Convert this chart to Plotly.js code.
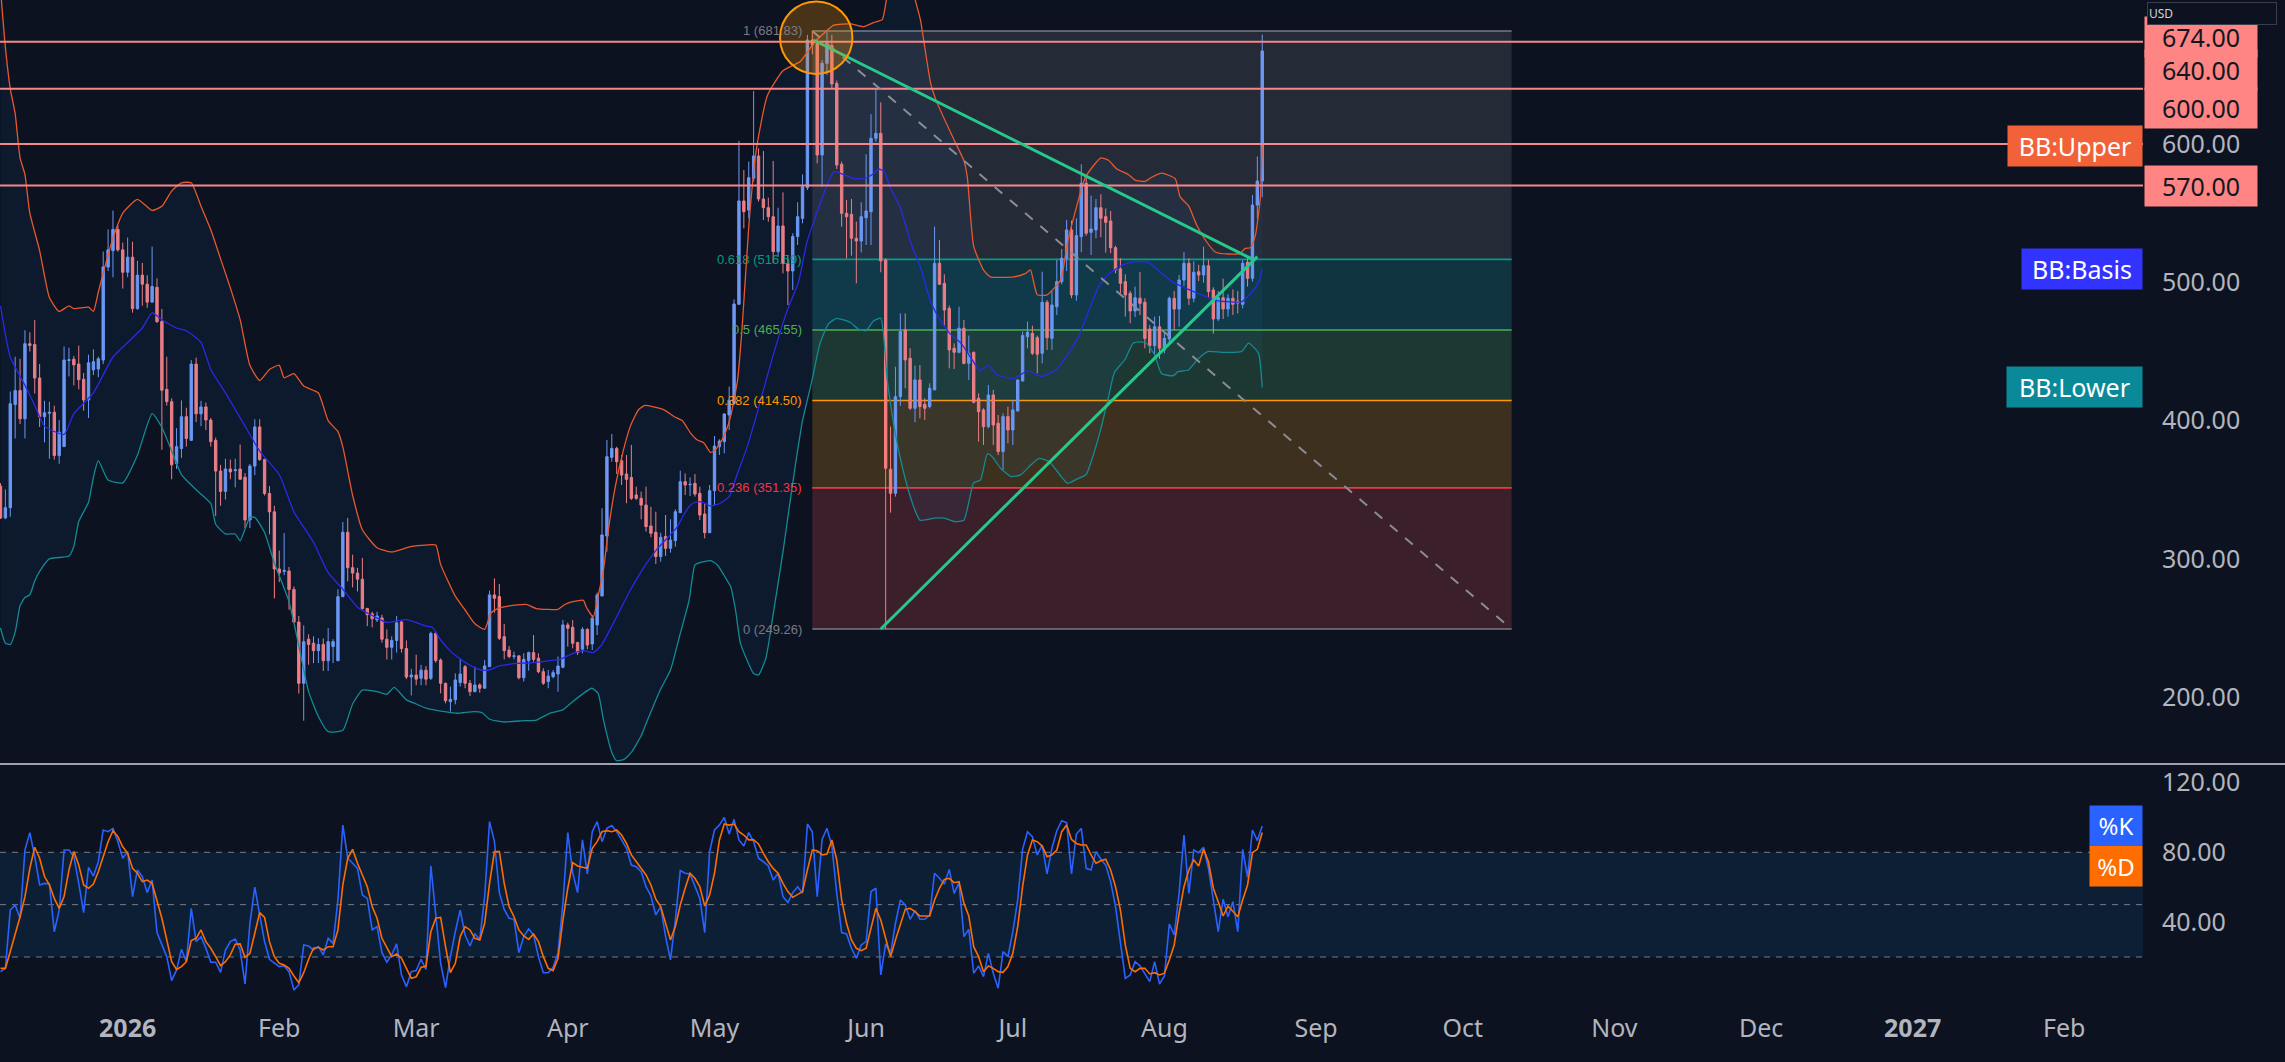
<!DOCTYPE html>
<html><head><meta charset="utf-8">
<script src="https://cdn.plot.ly/plotly-3.0.1.min.js"></script>
<style>html,body{margin:0;padding:0;background:#0c1220;}#chart{width:2285px;height:1062px;}</style>
</head><body><div id="chart"></div>
<script>
// ---------- DATA ----------
const startDate = [2025, 11, 6]; // first daily candle: 2025-12-06
const open = [352.6,329.6,337.0,411.6,421.7,401.3,455.6,455.0,430.8,402.8,
405.3,406.0,374.7,381.2,443.5,444.4,440.9,429.9,414.9,436.7,
437.3,443.8,511.1,522.9,538.3,523.5,507.3,518.2,481.0,505.2,
498.7,485.7,496.4,471.6,422.6,413.7,368.9,379.8,402.8,385.7,
440.9,404.9,409.9,400.4,385.7,363.5,348.8,365.0,363.8,365.0,
359.1,328.1,367.1,395.4,371.8,347.3,334.0,292.7,290.9,291.2,
277.9,254.3,210.0,241.9,239.0,233.6,238.1,226.3,236.6,226.3,
272.6,319.3,293.6,289.7,285.3,264.1,260.2,255.8,257.3,241.9,
236.0,241.0,254.3,235.1,214.5,216.0,213.6,219.5,213.6,246.1,
226.8,210.0,196.7,198.0,210.5,222.0,210.0,203.9,208.8,206.4,
222.0,273.9,272.7,243.7,234.0,229.5,229.8,214.0,226.4,232.2,
228.1,218.4,211.2,214.8,216.7,221.6,252.2,250.5,239.4,234.6,
249.0,238.4,252.2,273.1,316.5,373.4,379.9,371.0,361.4,358.9,
346.2,343.8,338.9,323.8,319.2,301.6,316.1,307.6,313.2,333.4,
355.8,353.6,354.6,347.4,332.4,318.9,349.3,381.1,384.8,404.1,
412.5,484.1,558.9,552.3,575.3,591.4,560.3,554.0,547.5,522.2,
540.8,513.8,508.2,533.1,546.3,568.5,675.3,672.9,592.1,658.4,
671.2,643.9,585.4,549.9,549.2,531.9,529.9,546.8,551.1,604.2,
607.8,516.2,364.8,347.4,417.3,465.6,445.1,408.9,429.4,411.8,
410.1,422.2,513.8,499.3,481.2,452.3,449.4,466.8,441.4,449.4,
416.1,407.7,395.6,418.5,398.1,377.6,402.9,393.2,407.0,428.7,
460.6,463.1,460.0,448.7,485.6,459.5,482.4,500.5,517.4,537.9,
490.9,533.1,571.6,536.2,537.9,554.0,547.5,544.4,525.1,509.7,
500.5,492.1,479.3,488.5,485.6,466.3,454.2,467.9,451.1,459.0,
488.5,480.7,501.7,513.8,488.5,507.7,505.3,512.0,494.5,473.5,
488.9,480.7,488.5,486.5,484.1,514.5,502.9,555.9,573.3];
const high = [354.7,350.2,421.0,446.2,444.7,465.4,463.9,472.7,440.9,414.3,
413.7,410.8,400.4,453.6,452.7,446.8,454.2,434.4,447.7,451.5,
446.2,522.3,538.3,551.9,541.2,528.8,532.4,529.4,515.6,514.1,
505.2,525.9,502.9,480.7,446.2,416.1,394.5,414.6,409.3,443.8,
445.6,414.3,413.1,401.9,387.7,368.0,372.4,371.8,372.4,382.7,
362.0,368.6,401.0,401.0,372.4,352.6,338.4,306.0,318.6,294.1,
280.0,258.7,251.9,245.4,243.9,242.5,242.5,249.9,241.9,278.0,
326.6,329.6,303.0,293.5,300.7,264.6,261.7,261.7,259.6,248.9,
244.0,258.7,255.2,241.0,220.4,230.7,223.3,222.5,247.3,247.3,
228.0,210.4,207.6,217.2,228.0,223.2,212.4,222.0,210.0,226.8,
277.0,285.9,281.8,252.9,236.9,232.9,230.5,231.7,232.9,244.9,
231.7,220.8,219.6,219.6,229.3,255.8,253.9,255.8,240.1,250.5,
249.8,259.4,275.6,336.6,386.0,390.3,381.1,375.1,375.1,382.4,
352.2,348.6,352.2,337.7,334.1,318.9,331.7,328.6,335.8,363.8,
361.8,358.9,361.4,352.2,339.7,353.4,388.8,386.5,405.3,424.6,
487.7,602.3,581.3,587.3,638.4,596.9,595.0,561.3,587.8,554.0,
565.1,519.8,535.5,557.9,578.1,679.0,681.83,676.5,660.8,681.0,
679.0,646.0,587.3,559.6,560.3,543.9,557.9,592.6,621.6,639.1,
630.2,517.4,395.6,439.0,477.6,477.6,452.3,439.8,440.2,416.1,
427.0,540.3,530.6,505.8,483.2,455.9,482.4,472.8,461.5,449.9,
419.7,408.9,425.8,422.2,404.1,405.3,410.1,414.9,429.9,464.4,
471.6,468.7,461.5,507.7,487.2,493.7,516.2,524.1,545.1,544.6,
546.3,585.4,578.1,562.7,560.3,563.7,553.5,551.6,526.5,517.4,
505.8,493.9,496.9,507.4,488.5,469.2,475.2,475.7,464.4,489.7,
493.7,505.3,521.8,517.4,515.3,512.7,525.8,516.2,496.4,493.7,
502.6,491.3,494.9,493.7,516.2,518.6,563.2,591.1,679.3];
const low = [328.8,328.7,330.5,387.1,397.5,387.1,450.0,419.6,395.4,384.2,
372.4,371.8,368.8,381.2,432.0,425.5,422.6,407.2,401.9,432.9,
431.4,440.9,508.2,503.7,522.3,495.5,503.7,478.1,480.1,483.1,
481.6,485.7,470.7,378.9,410.8,357.6,365.0,373.0,381.2,385.7,
399.0,396.0,393.1,381.2,331.0,338.4,342.9,357.6,351.7,357.0,
322.2,322.2,360.6,370.9,345.8,317.8,271.4,283.2,288.2,263.2,
253.7,202.6,182.9,223.4,224.6,224.6,218.9,218.9,224.6,226.3,
272.6,283.8,279.4,276.4,263.2,251.3,250.4,254.3,239.4,227.2,
227.2,232.2,232.2,213.0,201.2,208.6,208.6,208.6,212.4,224.9,
202.7,195.5,189.5,194.8,207.6,206.4,200.8,203.7,203.2,206.4,
222.0,261.1,241.3,227.3,228.1,227.3,212.8,211.2,219.1,225.6,
217.2,208.8,206.4,213.6,203.9,220.8,236.5,235.3,230.5,231.7,
234.6,234.1,244.9,273.1,305.2,370.3,361.4,353.4,340.2,342.6,
342.6,328.6,319.7,315.6,296.3,297.9,302.1,304.5,308.8,333.4,
346.2,345.5,345.0,328.1,314.8,318.9,338.9,375.1,376.3,393.2,
411.3,484.1,539.1,546.3,572.9,558.4,545.1,543.9,513.8,518.6,
506.5,483.6,494.5,527.0,542.7,566.8,665.0,586.1,569.0,650.0,
640.3,582.0,540.3,517.4,519.3,499.3,521.7,527.0,527.0,601.8,
507.3,249.26,333.4,345.0,410.6,423.4,407.7,398.8,401.6,400.5,
408.9,422.2,498.1,468.7,437.8,437.3,448.7,440.7,429.4,412.5,
384.8,382.4,394.4,382.4,375.1,364.3,383.6,382.4,406.5,428.2,
452.3,447.5,434.2,441.4,451.1,451.1,476.4,498.6,508.2,488.5,
486.7,521.8,533.8,519.8,531.9,532.6,521.5,521.1,506.5,492.1,
475.2,470.5,474.9,476.4,452.3,448.7,447.5,444.6,448.7,455.4,
465.6,467.9,497.3,483.6,485.6,500.9,499.7,488.5,462.9,471.9,
473.5,475.2,476.4,477.6,481.2,496.9,500.5,545.8,561.5];
const close = [329.6,337.0,412.2,421.7,401.3,455.6,454.4,430.8,402.8,405.7,
406.0,374.7,391.6,443.8,444.0,440.3,429.6,414.9,441.8,442.6,
444.7,511.1,523.5,538.3,523.5,507.3,518.2,481.0,505.2,498.7,
485.7,497.0,471.6,422.0,413.7,368.0,381.2,402.8,387.1,440.9,
404.9,409.9,400.4,384.8,363.5,348.8,365.0,362.9,364.4,357.6,
328.1,367.1,395.4,371.8,347.3,334.0,292.7,289.7,291.5,277.9,
254.3,210.0,240.1,238.1,233.6,238.1,226.3,240.1,240.1,272.6,
319.3,293.6,289.7,285.3,264.1,259.6,256.7,258.7,241.9,236.0,
241.0,253.7,235.1,214.5,216.0,213.0,219.5,213.0,246.1,226.4,
210.0,197.4,198.4,212.4,216.7,210.0,203.9,208.8,206.4,222.5,
273.9,271.5,242.5,233.6,229.3,229.8,214.0,227.3,232.2,227.3,
218.4,210.0,215.2,217.7,222.5,252.2,249.8,238.9,232.2,249.0,
237.7,257.0,273.9,317.3,373.9,379.9,370.3,360.6,357.5,343.8,
343.8,338.9,323.3,318.5,301.6,315.6,307.6,313.6,334.1,355.8,
353.4,353.9,346.9,331.7,318.9,349.3,381.6,385.2,404.8,414.9,
484.3,558.9,551.1,575.7,591.4,560.3,554.0,547.5,522.2,540.8,
513.8,508.2,533.1,547.5,569.2,675.3,671.7,592.1,658.4,673.0,
643.5,584.9,549.9,547.5,531.9,529.9,547.5,551.6,604.2,607.8,
515.5,365.5,347.4,417.3,464.4,443.9,408.9,429.4,410.1,408.9,
423.4,513.8,498.6,480.0,451.1,449.4,466.8,441.4,448.7,413.2,
406.5,395.6,418.5,396.8,377.6,402.9,393.2,407.7,429.4,461.5,
463.9,448.7,448.0,485.6,460.0,483.6,500.5,517.4,537.9,490.9,
533.8,571.6,535.5,538.6,554.0,546.3,543.4,525.1,508.9,499.3,
490.9,479.3,488.9,484.8,459.5,454.2,467.9,452.3,459.5,488.5,
480.7,501.7,513.8,488.5,507.3,505.3,512.0,493.3,473.5,488.9,
480.7,488.5,484.1,485.0,513.8,502.9,555.9,573.3,667.4];

// Bollinger Bands: [candle number, value]
const bbUpper = [[1,712],[2,670],[3,640],[4,622],[5,590],[6,578],[7,550],[9,523],[11,489],[13,479],[15,483],[16,481],[19,482],[20,479],[21,493],[23,520],[24,532],[26,550],[29,560],[32,552],[34,555],[36,566],[38,572],[40,572],[42,555],[44,538],[46,517],[48,496],[50,473],[52,440],[54,429],[56,437],[58,440],[59,431],[61,434],[63,425],[66,420],[68,400],[70,392],[71,381],[73,346],[75,321],[78,308],[81,305],[85,309],[88,310],[90,310],[91,296],[94,273],[96,263],[98,253],[100,249],[101.3,261],[102.7,264],[105,266],[108.5,267],[110.6,264],[115,263.5],[116.4,267],[118,269],[120.2,270],[120.8,265],[122.2,258],[123.2,273],[124.3,292],[125.3,321],[126.7,352],[128.4,379],[129.8,396],[131.5,408],[132.8,411],[134.5,410],[136.6,408],[138.7,403],[140.4,400],[142.1,391],[143.5,386],[144.8,384],[146.2,377],[147.2,379],[148.2,384],[149.3,392],[150.3,403],[151.7,429],[152.7,470],[154,540],[155.5,595],[157.8,635],[161,653],[164.6,660],[167.3,673],[171.4,686],[174.8,687],[177.5,685],[179.6,688],[181.3,690],[182.5,712],[184.5,735],[186.5,730],[188,705],[189.1,690],[191.2,644],[192.5,630],[196,603],[198,588],[198.7,576],[200,526],[202,509],[203.4,504],[208.2,504],[210.6,506.5],[211.6,509],[213,491],[215,491],[217.8,502],[219.2,529],[220.9,553],[222.7,575],[224.4,584],[226,590],[227.5,588.5],[229.3,582],[231.6,578],[233,574],[235,573],[236.4,576],[238.4,579],[241.2,575],[242.2,562],[244,555],[245.6,541.5],[247.3,531],[249.4,522],[252.1,520.5],[254.5,521],[255.5,524.6],[256.6,525],[257.6,534],[258.6,561],[259,598.4]];
const bbBasis = [[1,483],[3,446],[6,425.5],[8,411],[10,396],[14,390],[16,405],[20,420],[24,446],[27,456.5],[30,467],[32,478],[34,473],[37,467],[39,465],[42,456.5],[44,437],[47,420],[51,396],[54,378],[58,361],[61,334],[65,312],[68,290],[71,278],[74,265],[77,259],[80,254],[84,256],[88,251.4],[89.3,250.5],[91,241.3],[93.1,232.9],[94.8,228.1],[96.9,223.2],[99.3,219.6],[101,219.6],[103,222.5],[106.5,224.4],[109.9,224.9],[113.3,226.4],[115.4,227.3],[118.1,231.7],[120.2,233.6],[122.2,232.2],[123.9,237.7],[125.6,248.6],[127.7,263],[129.8,277.5],[131.8,289.5],[133.2,297.2],[135.2,306.9],[137.3,314.9],[139.3,322.8],[140.7,331.7],[142.1,339],[143.5,341.4],[144.8,340.6],[146.2,338.2],[148.2,340.2],[150,345],[151.7,361.9],[153.7,381.2],[155.6,404],[158.4,440],[161.8,479],[164.2,500.5],[165.9,529],[168,551],[170,570],[171.4,580],[173.4,578],[175.5,575],[177.5,575],[179.3,578],[180.6,582],[181.7,580],[183,568],[185,554],[187.1,529],[189.2,510],[191.2,486],[193.3,472],[195.4,462],[197.4,456],[199.5,445],[201.3,436],[203,440],[204.8,433],[208.3,430.6],[211,436],[213.8,432],[216.8,436.6],[219.2,447.5],[221.6,462],[223.7,481],[225.7,498],[227.8,506.5],[230.5,512.6],[233,515],[235.7,514.5],[238.1,507.7],[240.5,500.5],[243.2,496],[246.6,491],[249.4,487],[252.1,486],[254.8,486],[256.9,493],[258.3,500.5],[259,510]];
const bbLower = [[1,250],[2,239],[3,238],[4,247],[5,266],[6,272],[7,274],[8,284],[9,291],[11,300],[15,302],[16,309],[17,327],[19,341],[20,359],[21,371],[23,357],[26,355],[29,375],[32,405],[34,395],[36,378],[38,361],[41,350],[44,340],[45,325],[47,318],[49,318],[50,313],[52,330],[53,330],[55,319],[57,297],[60,269],[62,237],[64,204],[66,186],[68,175],[71,176],[73,195],[75,205],[78,204],[80,202],[81.5,207],[84,198],[86,195],[88,192],[89.7,190.7],[91.7,189.5],[94.4,188.3],[97.8,189.5],[99.5,188.7],[101,184],[104,182],[108,183],[110.6,183.4],[113.3,188.3],[116,190.7],[118,196.7],[120.2,202.7],[121.9,206.4],[123.2,202.7],[124.3,183.4],[126,160],[127,154],[128.5,155],[130,160],[132,172],[133.3,183.4],[135.9,205.2],[138,219.6],[140,246],[141.8,270],[143,295.6],[144,297.3],[146.2,298.7],[147.6,295.6],[149.3,286],[150.3,280],[151.3,263],[152.3,239],[154,224],[155,217],[156,216],[157.5,228],[159,260],[161,305],[163,355],[165,400],[167,430],[168.5,455],[170.3,470],[172,474],[174.8,471],[176.5,466],[178,465],[179.5,472],[181,474],[182.3,430],[184,390],[185.5,365],[187.5,340],[189,328],[192,329.5],[194,329.5],[196,327],[198,328],[200,355],[201.4,357],[202.8,376],[204,373],[205.5,365.5],[207.6,359.5],[209.6,360.7],[211.7,368],[213.4,372.7],[215.5,370],[217.9,359.5],[219.2,354.6],[221.3,358],[223,361],[224,370],[226,394],[227.5,416],[228.8,435],[230.9,444],[232.6,456],[234,457],[235.3,456],[237,447.5],[238.4,434],[240.8,432.5],[241.8,435.4],[243.9,436.6],[246,445],[248,450],[250.7,449.4],[254.8,450],[256.2,456],[258.2,449],[259,424]];

// Stochastic (one value per candle)
const stochK = [11.6,13.5,46.9,49.8,42.2,81.3,91.3,77.5,61.3,62.2,
61.8,34.5,46.9,81.3,81.3,77.5,62.2,45.4,71.4,66.4,
74.6,92.8,91.8,93.7,86.1,76.6,80.4,54.6,69.9,66.1,
56.9,64.1,34,26.9,20.2,6.5,12.6,24.4,17.3,47.9,
28.8,31.7,25,17,17,11.2,24,28.8,30.3,24,
4.5,39.3,60,44.1,28.8,18.7,16.4,14.5,14.9,11.6,
1.1,4,26.9,26.3,24,25.9,21.2,30.7,27.8,52.7,
95.6,76.6,73.7,70.8,55.5,53.6,35.5,37.4,22.5,17,
21.2,27.5,9.7,3,11.6,12.2,18.7,12.9,72.2,
42.2,16.4,2.4,20.2,34.5,46.9,32.6,26.3,33.2,30.1,
54.6,97.6,86.1,56.9,47.3,42.2,41.6,22.5,31.7,36.1,
32.6,20.2,11,11,14.1,22.5,50.8,91.3,68.3,56.9,
87.1,67.6,91.8,97.6,86.1,93.7,95.3,91.8,87.1,82.3,
72.7,71.8,68.9,60.3,55,44.1,48.9,31.7,18.3,41.2,
69.5,68,67.6,60.7,53.6,34,80.4,92.8,95.6,100,
90.5,98.9,87.1,83.6,91.3,86.1,76.6,74.6,72.2,64.1,
68,54.6,51.2,56.9,60.3,56.5,96.2,91.8,54.6,87.4,
93.7,83.6,56.5,34,33.2,25,19.3,26.9,
28.8,57.5,59.4,9.7,27.5,22.1,39.3,52.7,49.8,41.6,
46.6,41.6,41.6,44.1,68,65.1,61.8,70.2,56.5,62.6,
31.7,35.9,10.7,14.9,8.8,22.1,10.7,2.1,23.1,20.2,
34.5,52.7,81.7,91.8,89,78.5,84.2,67.6,82.3,92.4,
98.1,97,67.6,90.5,93.7,70.8,69.9,80.4,76,72.7,
63.2,48.9,28.8,7.8,9.7,17.3,14.9,10.7,5.9,17.3,
4.5,9.1,38.9,32.6,56.5,89.9,56.5,81.3,79.8,82.9,
70.8,52.7,34.5,53.1,43.1,51.7,34.5,81.7,65.7,92.8,86.7,95.1];
const stochD = [13.5,13.5,23.1,32.6,43.1,54.6,70.8,82.9,76.6,66.1,
61.3,53.6,47.9,54.6,69.9,80.4,72.7,61.3,59.4,61.8,
68.9,77.5,86.1,92.4,89,83.2,79.4,70.8,68,63.2,
64.1,62.2,52.7,42.2,29.8,17.3,12.9,14.5,17.3,29.4,
30.7,35.5,28.8,25,20.2,15,17.3,21.2,27.3,27.5,
19.8,22.1,33.6,45.4,42.7,28.8,20.2,16.4,15.4,13.5,
9.1,5.3,11,18.7,25,25.6,24,25.9,25.9,35.5,
61.3,76.6,81.7,73.7,67,60.3,48.9,42.2,30.7,25,
20.2,21.7,19.3,13.5,7.8,8.7,14.1,14.5,34.5,
42.2,42.7,25.9,11,16.4,31.7,37.4,35.5,30.7,29.8,
39.3,62.2,80.4,80.4,62.2,48.9,43.1,35.5,32.1,30.1,
33.2,28.8,20.2,13.5,12.2,19.3,41.2,59.4,74.1,72.2,
71.4,70.8,82.3,86.1,91.8,92.4,91.8,92.8,89.9,85.1,
78.5,74.6,70.8,67,61.3,53.1,48.9,38.9,29.8,37.4,
49.8,59.4,68,65.1,60.3,49.2,55.5,68,87.1,96.2,
95.6,96.2,91.8,89.9,87.1,87.1,84.8,79.4,74.6,70.8,
68,62.2,57.5,54.2,56.1,57.5,69.9,81.3,80.9,78.5,
79,87.1,75.6,52.7,39.3,29.8,25,23.6,
25,36.4,47.9,41.2,30.7,20.2,29.8,38.4,47.3,47.9,
46,43.5,43.5,43.5,52.7,59.4,64.5,65.1,62.6,63.2,
50.8,43.5,25.9,20.2,11.6,14.9,13.5,11.6,11.2,14.5,
22.1,37.4,60.3,78.5,87.1,86.1,83.6,77.5,78.5,81.3,
91.8,95.6,87.4,85.1,84.2,84.2,78.5,73.7,75.2,76,
69.9,60.3,46.9,26.9,13.5,11.6,13.5,13.5,10.3,11,
9.7,10.7,18.3,26.9,45,60.3,69.9,75.6,72.2,81.7,
74.6,59.4,51.7,43.5,49.2,46,43.1,52.7,61.3,79.8,81.7,91.3];

// Drawings (anchors in candle number / price)
const hLines = [674, 640, 600, 570];
const hLineLabelShift = [5, 19, 36, 0];           // label stacking offsets (px)
const fibHigh = 681.83, fibLow = 249.26;
const fibStartK = 167, fibEndK = 310;
const fibLevels = [1, 0.618, 0.5, 0.382, 0.236, 0];
const fibLineColors = ['#787b86','#089981','#4caf50','#ff9800','#f23645','#787b86'];
const fibFillColors = ['#252a37','#0f3440','#1d3833','#3d301e','#3b1f2b'];
const trendDown = [[167.2, 675.3],[257.3, 516.2]];
const trendUp   = [[181.0, 249.26],[258.0, 518.6]];
const circleBox = [[160.4, 650.8],[175.2, 703.2]];
const monthTicks = ['2026-01-01','2026-02-01','2026-03-01','2026-04-01','2026-05-01','2026-06-01','2026-07-01','2026-08-01','2026-09-01','2026-10-01','2026-11-01','2026-12-01','2027-01-01','2027-02-01'];
const monthLabels = ['<b>2026</b>','Feb','Mar','Apr','May','Jun','Jul','Aug','Sep','Oct','Nov','Dec','<b>2027</b>','Feb'];
const priceTicks = [200,300,400,500,600];
const stochTicks = [40,80,120];

// ---------- HELPERS ----------
const DAY = 86400000, T0 = Date.UTC(startDate[0], startDate[1], startDate[2]);
function kDate(k){ return new Date(T0 + (k-1)*DAY).toISOString().slice(0,19).replace('T',' '); }
const dates = open.map((_, i) => kDate(i+1));
const FONT = 'Noto Sans, Open Sans, sans-serif';
const BG = '#0c1220';

// ---------- TRACES ----------
const bandLine = (pts, color) => ({
  x: pts.map(p => kDate(p[0])), y: pts.map(p => p[1]),
  type:'scatter', mode:'lines', line:{color:color, width:1.3, shape:'spline', smoothing:0.5},
  hoverinfo:'skip', xaxis:'x', yaxis:'y'
});
const tUpper = bandLine(bbUpper, '#e9582d');
const tLower = Object.assign(bandLine(bbLower, '#148a93'), {fill:'tonexty', fillcolor:'rgba(33,150,243,0.06)'});
const tBasis = bandLine(bbBasis, '#2a2ae6');

const tCandle = {
  type:'candlestick', x:dates, open:open, high:high, low:low, close:close,
  increasing:{line:{color:'#6f98f5', width:1}, fillcolor:'#6f98f5'},
  decreasing:{line:{color:'#f67d80', width:1}, fillcolor:'#f67d80'},
  whiskerwidth:0, hoverinfo:'skip', xaxis:'x', yaxis:'y'
};
const tK = {x:dates, y:stochK, type:'scatter', mode:'lines', line:{color:'#2962ff', width:1.6}, hoverinfo:'skip', xaxis:'x', yaxis:'y2'};
const tD = {x:dates, y:stochD, type:'scatter', mode:'lines', line:{color:'#ff6d00', width:1.6}, hoverinfo:'skip', xaxis:'x', yaxis:'y2'};

// ---------- SHAPES ----------
const shapes = [];
const fibVal = l => fibLow + l*(fibHigh - fibLow);
for (let j = 0; j < fibLevels.length-1; j++) {
  shapes.push({type:'rect', xref:'x', yref:'y', x0:kDate(fibStartK), x1:kDate(fibEndK),
    y0:fibVal(fibLevels[j]), y1:fibVal(fibLevels[j+1]), fillcolor:fibFillColors[j], line:{width:0}, layer:'below'});
}
fibLevels.forEach((l, j) => shapes.push({type:'line', xref:'x', yref:'y', x0:kDate(fibStartK), x1:kDate(fibEndK),
  y0:fibVal(l), y1:fibVal(l), line:{color:fibLineColors[j], width:1.6}, layer:'below'}));
shapes.push({type:'rect', xref:'paper', yref:'y2', x0:0, x1:1, y0:20, y1:80, fillcolor:'rgba(33,150,243,0.1)', line:{width:0}, layer:'below'});
[20,50,80].forEach(v => shapes.push({type:'line', xref:'paper', yref:'y2', x0:0, x1:1, y0:v, y1:v,
  line:{color:'#787b86', width:1, dash:'6px,6px'}, layer:'below'}));
hLines.forEach(v => shapes.push({type:'line', xref:'paper', yref:'y', x0:0, x1:1, y0:v, y1:v, line:{color:'#f7868a', width:2}, layer:'above'}));
shapes.push({type:'line', xref:'x', yref:'y', x0:kDate(fibStartK), y0:fibHigh, x1:kDate(fibEndK), y1:fibLow,
  line:{color:'#8a8d96', width:2, dash:'10px,10px'}, layer:'above'});
[trendDown, trendUp].forEach(t => shapes.push({type:'line', xref:'x', yref:'y', x0:kDate(t[0][0]), y0:t[0][1], x1:kDate(t[1][0]), y1:t[1][1],
  line:{color:'#26c98b', width:3}, layer:'above'}));
shapes.push({type:'circle', xref:'x', yref:'y', x0:kDate(circleBox[0][0]), x1:kDate(circleBox[1][0]), y0:circleBox[0][1], y1:circleBox[1][1],
  fillcolor:'rgba(255,152,0,0.25)', line:{color:'#ff9800', width:2}, layer:'above'});
const PW = 2143, PH = 1005;
shapes.push({type:'line', xref:'paper', yref:'paper', x0:0, x1:2285/PW, y0:(PH-764)/PH, y1:(PH-764)/PH, line:{color:'#d1d4dc', width:1.5}});

// ---------- ANNOTATIONS ----------
const ann = [];
fibLevels.forEach((l, j) => ann.push({xref:'x', yref:'y', x:kDate(fibStartK), y:fibVal(l), xanchor:'right', yanchor:'middle', xshift:-8,
  text: l + ' (' + fibVal(l).toFixed(2) + ')', showarrow:false, font:{family:'Liberation Sans, Arial, sans-serif', size:13, color:fibLineColors[j]}}));
hLines.forEach((v, j) => ann.push({xref:'paper', yref:'y', x:1, y:v, xanchor:'left', yanchor:'middle', xshift:1, yshift:hLineLabelShift[j],
  text:v.toFixed(2), showarrow:false, bgcolor:'#fe8584', width:108, height:36, borderpad:2, align:'center',
  font:{family:FONT, size:25, color:'#131722'}}));
const lastOf = a => a[a.length-1][1];
[[ 'BB:Upper', lastOf(bbUpper), '#f26238', 130],[ 'BB:Basis', lastOf(bbBasis), '#3333ff', 116],[ 'BB:Lower', lastOf(bbLower), '#0a8a98', 131]]
 .forEach(b => ann.push({xref:'paper', yref:'y', x:1, y:b[1], xanchor:'right', yanchor:'middle', text:b[0], showarrow:false,
   bgcolor:b[2], width:b[3], height:36, borderpad:2, align:'center', font:{family:FONT, size:25, color:'#ffffff'}}));
ann.push({xref:'paper', yref:'y2', x:1, y:stochK[stochK.length-1], xanchor:'right', yanchor:'middle', text:'%K', showarrow:false,
  bgcolor:'#2962ff', width:48, height:35, borderpad:2, font:{family:FONT, size:24, color:'#ffffff'}});
ann.push({xref:'paper', yref:'y2', x:1, y:stochD[stochD.length-1], xanchor:'right', yanchor:'middle', yshift:-33, text:'%D', showarrow:false,
  bgcolor:'#ff6d00', width:48, height:36, borderpad:2, font:{family:FONT, size:24, color:'#ffffff'}});
ann.push({xref:'paper', yref:'paper', x:2147/PW, y:1 - 14/PH, xanchor:'left', yanchor:'middle', text:'USD', showarrow:false,
  bgcolor:BG, bordercolor:'#3a3e4a', borderwidth:1, width:126, height:19, borderpad:1, align:'left',
  font:{family:FONT, size:12, color:'#d1d4dc'}});

// ---------- LAYOUT ----------
const tickFont = {family:FONT, size:25, color:'#b2b5be'};
const layout = {
  width:2285, height:1062, paper_bgcolor:BG, plot_bgcolor:BG,
  margin:{l:0, r:142, t:0, b:57}, showlegend:false, font:{family:FONT},
  xaxis:{type:'date', range:[kDate(0.898), kDate(439.1)], anchor:'y2', tickvals:monthTicks, ticktext:monthLabels,
    tickfont:tickFont, showgrid:false, zeroline:false, showline:false, ticks:'', ticklabelstandoff:6,
    rangeslider:{visible:false}, fixedrange:true},
  yaxis:{domain:[0.2418, 1], range:[153.06, 704.24], side:'right', anchor:'x', tickvals:priceTicks,
    ticktext:priceTicks.map(v => v.toFixed(2)), tickfont:tickFont, showgrid:false, zeroline:false, showline:false,
    ticks:'', ticklabelstandoff:18, fixedrange:true},
  yaxis2:{domain:[0, 0.2378], range:[-7.51, 129.46], side:'right', anchor:'x', tickvals:stochTicks,
    ticktext:stochTicks.map(v => v.toFixed(2)), tickfont:tickFont, showgrid:false, zeroline:false, showline:false,
    ticks:'', ticklabelstandoff:18, fixedrange:true},
  shapes:shapes, annotations:ann
};
Plotly.newPlot('chart', [tUpper, tLower, tBasis, tCandle, tK, tD], layout, {displayModeBar:false, staticPlot:true});
</script>
</body></html>
